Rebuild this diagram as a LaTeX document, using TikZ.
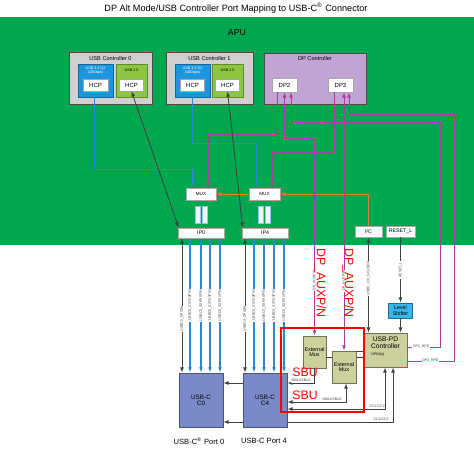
\documentclass[tikz,border=0pt]{standalone}
\usepackage{fontspec}
\setmainfont{Liberation Sans}
\usetikzlibrary{arrows.meta, calc}
\definecolor{apugreen}{RGB}{0,166,80}
\definecolor{ctrlgray}{RGB}{208,208,208}
\definecolor{ssblue}{RGB}{28,150,222}
\definecolor{hsgreen}{RGB}{141,198,63}
\definecolor{dplilac}{RGB}{192,164,212}
\definecolor{portblue}{RGB}{122,138,200}
\definecolor{muxkhaki}{RGB}{204,208,156}
\definecolor{shiftblue}{RGB}{56,182,235}
\definecolor{auxpink}{RGB}{172,58,162}
\definecolor{sslinkblue}{RGB}{45,135,210}
\definecolor{ctrlorange}{RGB}{228,128,40}
\definecolor{wiregray}{RGB}{64,64,64}
\newcommand{\fsz}[1]{\fontsize{#1}{#1}\selectfont}
\pgfdeclarelayer{bg}
\pgfsetlayers{bg,main}

\begin{document}
\begin{tikzpicture}[x=0.02cm, y=-0.02cm, >={Latex[length=3pt,width=2.2pt]},
    whitebox/.style={draw=gray!70, fill=white, inner sep=0pt, align=center, font=\fsz{3.4}},
    ctrlbox/.style={draw=gray!60!black, fill=ctrlgray, inner sep=0pt},
    ssbox/.style={draw=ssblue!70!black, fill=ssblue, inner sep=0pt},
    hsbox/.style={draw=hsgreen!70!black, fill=hsgreen, inner sep=0pt},
    dpbox/.style={draw=gray!60!black, fill=dplilac, inner sep=0pt},
    subbox/.style={draw=sslinkblue!50, fill=blue!5, inner sep=0pt, minimum width=0.1cm, minimum height=0.34cm},
    portbox/.style={draw=portblue!60!black, fill=portblue, inner sep=0pt, align=center, font=\fsz{3.6}, minimum width=0.88cm, minimum height=1.08cm},
    extbox/.style={draw=muxkhaki!55!black, fill=muxkhaki, inner sep=0pt, align=center, font=\fsz{3.1}},
    shiftbox/.style={draw=shiftblue!60!black, fill=shiftblue, inner sep=0pt, align=center, font=\fsz{3}},
    wire/.style={draw=wiregray, line width=0.45pt},
    sslink/.style={draw=sslinkblue, line width=0.6pt},
    auxlink/.style={draw=auxpink, line width=0.5pt},
    ctllink/.style={draw=ctrlorange, line width=0.5pt},
    sig/.style={font=\fsz{2}, fill=white, inner sep=0.4pt, rotate=90, text=wiregray},
    tag/.style={font=\fsz{2}, fill=white, inner sep=0.4pt, text=wiregray},
    bigred/.style={font=\fsz{7}, text=red, inner sep=0pt},
    ttl/.style={font=\fsz{3.2}, inner sep=0pt}
]
\useasboundingbox (0,0) rectangle (474,453);

% Title and APU
\node[font=\fsz{5.2}] (title) at (236,8) {DP Alt Mode/USB Controller Port Mapping to USB-C\textsuperscript{®} Connector};
\node[fill=apugreen, minimum width=9.48cm, minimum height=4.56cm, inner sep=0pt] (apu) at (237,131) {};
\node[font=\fsz{5}] (apulbl) at (237,33) {APU};

% USB controllers
\node[ctrlbox, minimum width=1.66cm, minimum height=1.04cm] (uc0) at (110.5,78) {};
\node[ttl] (uc0t) at (110.5,58) {USB Controller 0};
\node[ssbox, minimum width=0.70cm, minimum height=0.66cm] (uc0ss) at (95.5,80.5) {};
\node[hsbox, minimum width=0.62cm, minimum height=0.66cm] (uc0hs) at (131.5,80.5) {};
\node[font=\fsz{2.1}, align=center, text=white] (uc0sst) at (95.5,70.5) {USB 3.2 G2\\(10Gbps)};
\node[font=\fsz{2.1}] (uc0hst) at (131.5,70) {USB 2.0};
\node[whitebox, minimum width=0.50cm, minimum height=0.24cm] (uc0hcpa) at (95.5,85) {HCP};
\node[whitebox, minimum width=0.48cm, minimum height=0.24cm] (uc0hcpb) at (131.5,85) {HCP};

\node[ctrlbox, minimum width=1.74cm, minimum height=1.04cm] (uc1) at (209.5,78) {};
\node[ttl] (uc1t) at (209.5,58) {USB Controller 1};
\node[ssbox, minimum width=0.70cm, minimum height=0.66cm] (uc1ss) at (192.5,80.5) {};
\node[hsbox, minimum width=0.62cm, minimum height=0.66cm] (uc1hs) at (227.5,80.5) {};
\node[font=\fsz{2.1}, align=center, text=white] (uc1sst) at (192.5,70.5) {USB 3.2 G2\\(10Gbps)};
\node[font=\fsz{2.1}] (uc1hst) at (227.5,70) {USB 2.0};
\node[whitebox, minimum width=0.48cm, minimum height=0.24cm] (uc1hcpa) at (192.5,85) {HCP};
\node[whitebox, minimum width=0.48cm, minimum height=0.24cm] (uc1hcpb) at (227.5,85) {HCP};

% DP controller
\node[dpbox, minimum width=2.04cm, minimum height=1.02cm] (dpc) at (315,78.5) {};
\node[ttl] (dpct) at (315,58) {DP Controller};
\node[whitebox, minimum width=0.50cm, minimum height=0.28cm] (dp2) at (284.5,85) {DP2};
\node[whitebox, minimum width=0.50cm, minimum height=0.28cm] (dp3) at (340.5,85) {DP3};

% Muxes, IPs and side blocks
\node[whitebox, font=\fsz{2.6}, minimum width=0.60cm, minimum height=0.24cm] (mux0) at (201,194) {MUX};
\node[whitebox, font=\fsz{2.6}, minimum width=0.62cm, minimum height=0.24cm] (mux1) at (264.5,194) {MUX};
\node[whitebox, font=\fsz{3}, minimum width=0.92cm, minimum height=0.20cm] (ip0) at (201,233) {IP0};
\node[whitebox, font=\fsz{3}, minimum width=0.92cm, minimum height=0.20cm] (ip4) at (265,233) {IP4};
\node[whitebox, font=\fsz{3}, minimum width=0.54cm, minimum height=0.22cm] (i2c) at (368.5,231.5) {I²C};
\node[whitebox, font=\fsz{3}, minimum width=0.58cm, minimum height=0.22cm] (rst) at (400.5,231.5) {RESET\_L};

\begin{pgfonlayer}{bg}
\foreach \m/\ip/\sx in {mux0/ip0/197.5, mux0/ip0/204.5, mux1/ip4/261, mux1/ip4/268} {
    \draw[sslink, ->] (\m.south -| \sx,0) -- (\ip.north -| \sx,0);
}
\end{pgfonlayer}
\node[subbox] (mux0sa) at (197.5,214.5) {};
\node[subbox] (mux0sb) at (204.5,214.5) {};
\node[subbox] (mux1sa) at (261,214.5) {};
\node[subbox] (mux1sb) at (268,214.5) {};

% USB-C ports
\node[portbox] (c0) at (201,400) {USB-C\\C0};
\node[portbox] (c4) at (265,400) {USB-C\\C4};
\node[font=\fsz{4.3}] (c0t) at (199,441) {USB-C\textsuperscript{®} Port 0};
\node[font=\fsz{4.3}] (c4t) at (264,441) {USB-C Port 4};

% PD side
\node[extbox, minimum width=0.46cm, minimum height=0.64cm] (ext1) at (314.5,352) {External\\Mux};
\node[extbox, minimum width=0.86cm, minimum height=0.68cm] (usbpd) at (385.5,350) {};
\node[font=\fsz{3.8}, align=center] (usbpdt) at (385.5,343) {USB-PD\\Controller};
\node[font=\fsz{2}, anchor=west] (gpio) at ($(usbpd.west)+(1.5,5)$) {GPIO(s)};
\coordinate (gpioa) at ($(usbpd.west)+(0,1)$);
\coordinate (gpiob) at ($(usbpd.west)+(0,7)$);
\draw[wire] (gpiob) -- (ext1.east |- gpiob);
\node[extbox, minimum width=0.48cm, minimum height=0.64cm] (ext2) at (344,367) {External\\Mux};
\draw[wire] (gpioa) -- (ext2.east |- gpioa);
\node[shiftbox, minimum width=0.48cm, minimum height=0.30cm] (lvl) at (400.5,310.5) {Level\\Shifter};

% links inside the APU
\draw[sslink, line width=0.75pt, ->] ($(uc0ss.south)+(-1,0)$) -- ++(0,72) -| ($(mux0.north)+(-8,0)$);
\draw[sslink, ->] (uc1ss.south) -- ++(0,46) -| ($(mux1.north)+(-8,0)$);
\draw[auxlink, ->] ($(dp2.south)+(-7.5,0)$) -- ++(0,42) -| ($(mux0.north)+(7,0)$);
\draw[auxlink, ->] ($(dp3.south)+(-6,0)$) -- ++(0,60) -| ($(mux1.north)+(7.5,0)$);
\draw[wire, <->] (uc0hcpb.south) -- ($(ip0.north west)+(1,0)$);
\draw[wire, <->] (uc1hcpb.south) -- ($(ip4.north west)+(1,0)$);
\draw[ctllink, ->] (i2c.north) |- (mux1.east);
\draw[ctllink, ->] (mux1.west) -- (mux0.east);

% DP aux and hot plug
\draw[auxlink, <->] (dp2.south) -- ++(0,46) -| node[sig, pos=0.86] {DP\_AUXP/N} (ext1.north);
\draw[auxlink, <->] (dp3.south -| ext2.north) -- node[sig, pos=0.73] {DP\_AUXP/N} (ext2.north);
\draw[auxlink, ->] ($(usbpd.east)+(0,-3)$) -| node[tag, pos=0.21] {DP2\_HPD} ++(33,-225) -| ($(dp2.south)+(6.5,0)$);
\draw[auxlink, ->] ($(usbpd.east)+(0,11)$) -| node[tag, pos=0.245] {DP3\_HPD} ++(47,-247) -| ($(dp3.south)+(8.5,0)$);

% IP to connector lanes
\draw[wire, <->] ($(ip0.south)+(-19,0)$) -- node[sig, pos=0.6] {USBC0\_DP/DM} ($(c0.north)+(-19,0)$);
\draw[wire, <->] ($(ip4.south)+(-20,0)$) -- node[sig, pos=0.6] {USBC4\_DP/DM} ($(c4.north)+(-20,0)$);
\foreach \dx/\lbl in {-11/{USBC0\_SSTX0P/N}, 0/{USBC0\_SSRX0P/N}, 9/{USBC0\_SSTX1P/N}, 19/{USBC0\_SSRX1P/N}} {
    \draw[sslink, <->] ($(ip0.south)+(\dx,0)$) -- node[sig, pos=0.5] {\lbl} ($(c0.north)+(\dx,0)$);
}
\foreach \dx/\lbl in {-11/{USBC4\_SSTX0P/N}, -1/{USBC4\_SSRX0P/N}, 9/{USBC4\_SSTX1P/N}, 19/{USBC4\_SSRX1P/N}} {
    \draw[sslink, <->] ($(ip4.south)+(\dx,0)$) -- node[sig, pos=0.5] {\lbl} ($(c4.north)+(\dx,0)$);
}

% PD controller links
\draw[wire, <->] (i2c.south) -- node[sig, pos=0.43] {USBC\_I2C\_SCL/SDA} (i2c.south |- usbpd.north);
\draw[wire, ->] (rst.south) -- node[sig, pos=0.5] {RESET\_L} (lvl.north);
\draw[wire, ->] (lvl.south) -- (lvl.south |- usbpd.north);

% SBU and CC
\coordinate (sbua) at (0,383);
\coordinate (sbub) at (0,402);
\coordinate (cca) at (0,409);
\coordinate (ccb) at (0,422);
\draw[wire, ->] (ext1.south) |- node[tag, above, pos=0.75] {SBU1/SBU2} (c4.east |- sbua);
\draw[wire, ->] (c4.west |- sbua) -- (c0.east |- sbua);
\draw[wire, <->] ($(ext2.south)+(2,0)$) |- node[tag, above, pos=0.62] {SBU1/SBU2} (c4.east |- sbub);
\draw[wire, <->] ($(usbpd.south)+(-0.5,0)$) |- node[tag, above, pos=0.54] {CC1/CC2} (c4.east |- cca);
\begin{pgfonlayer}{bg}
\draw[wire, <->] ($(usbpd.south)+(7.5,0)$) |- node[tag, above, pos=0.535] {CC1/CC2} (c0.east |- ccb);
\end{pgfonlayer}

% highlight
\draw[red, line width=1.3pt] (281,328) rectangle (364,412);
\node[bigred, rotate=-90] (auxreda) at (320,283) {DP\_AUXP/N};
\node[bigred, rotate=-90] (auxredb) at (348,283) {DP\_AUXP/N};
\node[bigred] (sbureda) at (305,372) {SBU};
\node[bigred] (suburedb) at (305,395) {SBU};
\end{tikzpicture}
\end{document}
